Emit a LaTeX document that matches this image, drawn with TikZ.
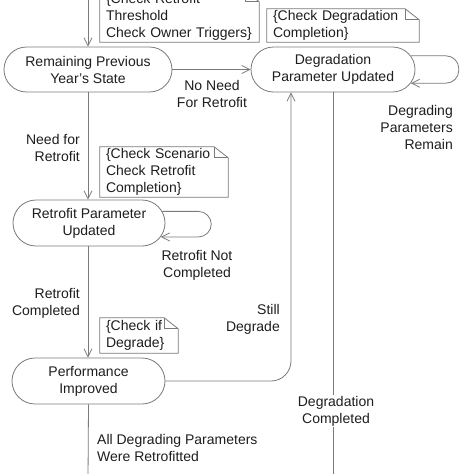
\documentclass[tikz,border=0pt]{standalone}
\usepackage{fontspec}
\setmainfont{Liberation Sans}
\usetikzlibrary{shapes.misc,arrows.meta}
\definecolor{lncol}{HTML}{7A7A7A}
\definecolor{txcol}{HTML}{1E1E1E}
\newcommand\dogear[1]{%
  \draw[ln] (#1.north west) -- ([xshift=-14pt]#1.north east) -- ([yshift=-11pt]#1.north east) -- (#1.south east) -- (#1.south west) -- cycle;
  \draw[ln] ([xshift=-14pt]#1.north east) |- ([yshift=-11pt]#1.north east);}
\begin{document}
\begin{tikzpicture}[x=1pt,y=-1pt,
  every node/.style={text=txcol, font=\fontsize{14}{17}\selectfont},
  ln/.style={draw=lncol, line width=0.8pt},
  arr/.style={ln, -{Straight Barb[length=8pt,width=8pt,line width=0.8pt]}},
  statebox/.style={ln, rounded rectangle, minimum height=45pt, inner sep=0pt, align=center},
  notebox/.style={inner xsep=6pt, inner ysep=0pt, align=left, anchor=center},
  lbl/.style={inner sep=1pt}
]
\useasboundingbox (0,0) rectangle (474,474);
\clip (0,0) rectangle (474,474);
\fill[white] (0,0) rectangle (474,474);

% states
\node[statebox, minimum width=168pt] (n1) at (88,69.5) {Remaining Previous\\Year's State};
\node[statebox, minimum width=164pt] (n2) at (333,69.5) {Degradation\\Parameter Updated};
\node[statebox, minimum width=152pt, minimum height=46pt] (n3) at (89,223) {Retrofit Parameter\\Updated};
\node[statebox, minimum width=153pt, minimum height=46pt] (n4) at (88.5,381) {Performance\\Improved};

% notes
\node[notebox, text width=147pt, minimum height=51pt] (c1) at (179.5,16.5) {\{Check Retrofit\\Threshold\\Check Owner Triggers\}};
\dogear{c1}
\node[notebox, text width=140pt, minimum height=33pt] (c2) at (343,25.5) {\{Check Degradation\\Completion\}};
\dogear{c2}
\node[notebox, text width=116pt, minimum height=50pt] (c3) at (164,172) {\{Check Scenario\\Check Retrofit\\Completion\}};
\dogear{c3}
\node[notebox, text width=66pt, minimum height=35pt] (c4) at (139,335.5) {\{Check if\\Degrade\}};
\dogear{c4}

% free ends
\coordinate (top1) at (88,-5);
\coordinate (bot4) at (88,480);
\coordinate (bot2) at (333,480);

% connectors
\draw[arr] (top1) -- (n1.north);
\draw[arr] (n1.east) -- (n2.west);
\draw[arr] (n1.south) -- (n1.south |- n3.north);
\draw[arr] (n3.south -| n1.south) -- (n1.south |- n4.north);
\draw[ln] (n4.south) -- (bot4);
\draw[arr, rounded corners=13pt] (n2.10) -- ++(48,0) |- (n2.-10.7);
\draw[arr, rounded corners=13pt] (n3.9) -- ++(49,0) |- (n3.-11);
\draw[arr, rounded corners=20pt] (n4.east) -| ([xshift=-42pt]n2.south);
\draw[ln] (n2.south) -- (bot2);

% labels
\node[lbl, align=center] (l1) at (212,94) {No Need\\For Retrofit};
\node[lbl, align=right, anchor=east] (l2) at (454,127) {Degrading\\Parameters\\Remain};
\node[lbl, align=right, anchor=east] (l3) at (81,147.5) {Need for\\Retrofit};
\node[lbl, align=center] (l4) at (197,265) {Retrofit Not\\Completed};
\node[lbl, align=right, anchor=east] (l5) at (81,303.5) {Retrofit\\Completed};
\node[lbl, align=right, anchor=east] (l6) at (281,319.5) {Still\\Degrade};
\node[lbl, align=center, fill=white] (l7) at (336,411) {Degradation\\Completed};
\node[lbl, align=left, anchor=west] (l8) at (96,448) {All Degrading Parameters\\Were Retrofitted};
\end{tikzpicture}
\end{document}
